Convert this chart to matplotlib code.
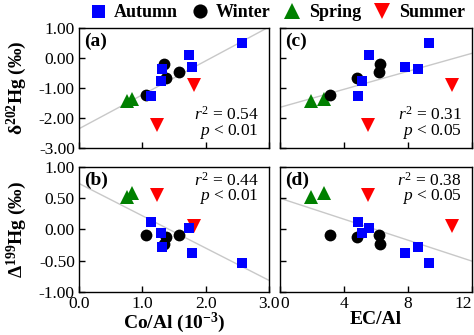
import numpy as np
import matplotlib
matplotlib.use("Agg")
import matplotlib.pyplot as plt
from matplotlib.ticker import FormatStrFormatter, MultipleLocator

plt.rcParams['font.family'] = ['Liberation Serif', 'DejaVu Serif']
plt.rcParams['mathtext.fontset'] = 'custom'
plt.rcParams['mathtext.rm'] = 'Liberation Serif'
plt.rcParams['mathtext.it'] = 'Liberation Serif:italic'
plt.rcParams['mathtext.bf'] = 'Liberation Serif:bold'
plt.rcParams['axes.unicode_minus'] = False

# samples per season: Co/Al (1e-3), EC/Al, d202Hg, D199Hg
autumn_co = [2.58, 1.73, 1.78, 1.31, 1.29, 1.13]
autumn_ec = [9.30, 5.55, 7.80, 8.65, 5.15, 4.85]
autumn_d202 = [0.51, 0.09, -0.30, -0.38, -0.77, -1.25]
autumn_D199 = [-0.53, 0.03, -0.37, -0.28, -0.06, 0.12]

winter_co = [1.34, 1.58, 1.37, 1.06]
winter_ec = [6.25, 6.20, 4.80, 3.12]
winter_d202 = [-0.21, -0.46, -0.68, -1.23]
winter_D199 = [-0.24, -0.09, -0.12, -0.09]

spring_co = [0.76, 0.83]
spring_ec = [1.95, 2.78]
spring_d202 = [-1.42, -1.38]
spring_D199 = [0.52, 0.58]

summer_co = [1.23, 1.82]
summer_ec = [5.50, 10.75]
summer_d202 = [-2.23, -0.90]
summer_D199 = [0.55, 0.05]

seasons = ["Autumn", "Winter", "Spring", "Summer"]
co = [autumn_co, winter_co, spring_co, summer_co]
ec = [autumn_ec, winter_ec, spring_ec, summer_ec]
d202 = [autumn_d202, winter_d202, spring_d202, summer_d202]
D199 = [autumn_D199, winter_D199, spring_D199, summer_D199]

markers = ['s', 'o', '^', 'v']
colors = ['#0000ff', '#000000', '#008000', '#ff0000']
sizes = [7.8, 8.5, 9.8, 9.8]
zorders = [5, 4, 3, 3]

stats = {'a': ("0.54", "0.01"), 'b': ("0.44", "0.01"),
         'c': ("0.31", "0.05"), 'd': ("0.38", "0.05")}

fig = plt.figure(figsize=(4.74, 3.35), dpi=100)
ax_a = fig.add_axes([0.1667, 0.5582, 0.4008, 0.3582])
ax_c = fig.add_axes([0.5907, 0.5582, 0.4051, 0.3582])
ax_b = fig.add_axes([0.1667, 0.1284, 0.4008, 0.3731])
ax_d = fig.add_axes([0.5907, 0.1284, 0.4051, 0.3731])

panels = [(ax_a, co, d202, 'a', (0, 3), (-3, 1)),
          (ax_b, co, D199, 'b', (0, 3), (-1, 1)),
          (ax_c, ec, d202, 'c', (0, 12), (-3, 1)),
          (ax_d, ec, D199, 'd', (0, 12), (-1, 1))]

for ax, xs, ys, tag, xlim, ylim in panels:
    for i in range(4):
        ax.plot(xs[i], ys[i], linestyle='none', marker=markers[i], color=colors[i],
                markersize=sizes[i], markeredgewidth=0, zorder=zorders[i], label=seasons[i])
    allx = np.concatenate([np.array(v) for v in xs])
    ally = np.concatenate([np.array(v) for v in ys])
    k, b = np.polyfit(allx, ally, 1)
    xx = np.array(xlim, dtype=float)
    ax.plot(xx, k * xx + b, color='#c8c8c8', linewidth=1.0, zorder=1)
    ax.set_xlim(xlim)
    ax.set_ylim(ylim)
    ax.tick_params(direction='in', length=4, width=1, labelsize=12.5, pad=3)
    for sp in ax.spines.values():
        sp.set_linewidth(1.0)
    ax.text(0.025, 0.96, "(%s)" % tag, transform=ax.transAxes, ha='left', va='top',
            fontsize=14, fontweight='bold')
    r2, p = stats[tag]
    if tag in ('a', 'c'):
        y1, y2 = 0.275, 0.135
    else:
        y1, y2 = 0.89, 0.765
    ax.text(0.945, y1, "$r^2$ = " + r2, transform=ax.transAxes, ha='right', va='center', fontsize=12.5)
    ax.text(0.945, y2, "$p$ < " + p, transform=ax.transAxes, ha='right', va='center', fontsize=12.5)

for ax in (ax_a, ax_b):
    ax.xaxis.set_major_locator(MultipleLocator(1.0))
    ax.xaxis.set_major_formatter(FormatStrFormatter('%.1f'))
for ax in (ax_c, ax_d):
    ax.set_xticks([0, 4, 8, 12])
for ax in (ax_a, ax_c):
    ax.yaxis.set_major_locator(MultipleLocator(1.0))
    ax.tick_params(labelbottom=False)
for ax in (ax_b, ax_d):
    ax.yaxis.set_major_locator(MultipleLocator(0.5))
for ax in (ax_a, ax_b):
    ax.yaxis.set_major_formatter(FormatStrFormatter('%.2f'))
for ax in (ax_c, ax_d):
    ax.tick_params(labelleft=False)

# keep the end labels of the EC/Al axis inside the figure, as in the original
d_labels = ax_d.get_xticklabels()
d_labels[0].set_horizontalalignment('left')
d_labels[-1].set_horizontalalignment('right')

ax_a.set_ylabel("δ$^{\\mathbf{202}}$Hg (‰)", fontsize=14, fontweight='bold')
ax_b.set_ylabel("Δ$^{\\mathbf{199}}$Hg (‰)", fontsize=14, fontweight='bold')
ax_a.yaxis.set_label_coords(-0.265, 0.5)
ax_b.yaxis.set_label_coords(-0.265, 0.5)
ax_b.set_xlabel("Co/Al (10$^{\\mathbf{-3}}$)", fontsize=14, fontweight='bold')
ax_d.set_xlabel("EC/Al", fontsize=14, fontweight='bold')
ax_b.xaxis.set_label_coords(0.5, -0.15)
ax_d.xaxis.set_label_coords(0.5, -0.15)

handles, labels = ax_a.get_legend_handles_labels()
fig.legend(handles[:4], labels[:4], loc='center', bbox_to_anchor=(0.582, 0.962), ncol=4,
           frameon=False, prop={'size': 13, 'weight': 'bold'}, handletextpad=0.3,
           columnspacing=0.6, handlelength=1.2, borderaxespad=0, markerscale=1.2)

fig.savefig("out.png", dpi=100)
